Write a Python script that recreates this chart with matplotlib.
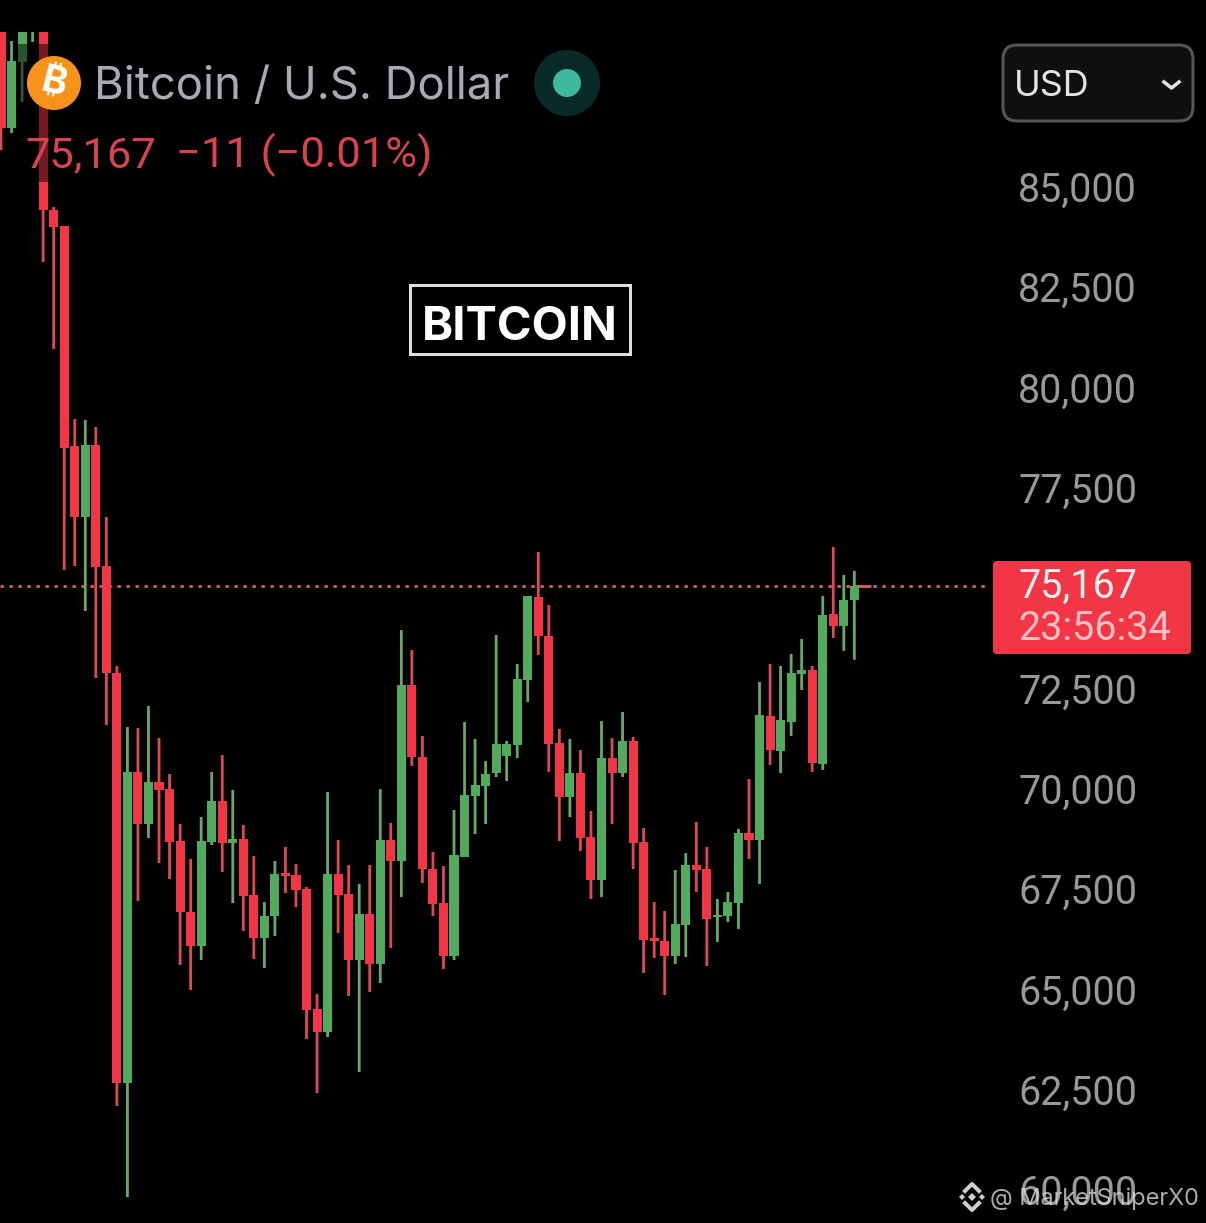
import numpy as np
import matplotlib
matplotlib.use("Agg")
import matplotlib.pyplot as plt
from matplotlib.patches import Circle, FancyBboxPatch, Polygon, Rectangle

# ---------- data (USD) ----------
opens = [89300, 86583, 88228, 89100, 89150, 84539, 84140, 78656, 76887, 78681,
         75666, 72999, 62779, 70531, 69235, 70282, 70107, 68811, 67041, 66194,
         68784, 69808, 68762, 68861, 67465, 66395, 66942, 68014, 67964, 67615,
         64624, 64051, 67989, 67490, 65845, 66992, 65745, 68836, 68312, 72700,
         70905, 68113, 67265, 65945, 68412, 69933, 70182, 70506, 70930, 71204,
         72824, 74893, 73921, 71254, 69908, 70506, 68911, 67839, 70880, 70506,
         71304, 68784, 66395, 66319, 65945, 66717, 68213, 68113, 66917, 66942,
         67265, 69010, 68836, 71927, 71054, 71777, 72973, 73073, 70730, 74469,
         74169, 74818]
highs = [89400, 88751, 89300, 89500, 89300, 84614, 84140, 79329, 79305, 79130,
         76887, 73173, 71653, 71628, 72176, 71379, 70481, 69235, 68362, 69409,
         70531, 70954, 70082, 69210, 68437, 67290, 68312, 68662, 68238, 67665,
         65003, 70032, 68836, 68213, 67740, 68213, 70107, 69260, 74070, 73572,
         71428, 68537, 68188, 69584, 71777, 71353, 70805, 73946, 71304, 73223,
         74917, 76014, 74693, 71603, 71353, 71079, 69559, 71802, 71379, 72027,
         71404, 69135, 67290, 67067, 68088, 68512, 69285, 68662, 67365, 67540,
         69110, 70356, 72774, 73223, 73173, 73472, 73846, 73173, 74917, 76139,
         75441, 75541]
lows = [86034, 86458, 87231, 88726, 83243, 81074, 75565, 75666, 74544, 72874,
        71702, 62206, 59937, 67316, 68886, 68263, 67864, 65720, 65097, 65845,
        68711, 68038, 67265, 66568, 65870, 65646, 66443, 67515, 67165, 63876,
        62530, 63926, 66518, 64948, 63053, 65047, 65272, 66145, 67415, 70681,
        67765, 66942, 65621, 65845, 68412, 68985, 69235, 70406, 70307, 70880,
        72275, 73447, 70531, 68811, 69409, 68561, 67365, 67415, 69235, 70406,
        68113, 65521, 65895, 64973, 65745, 65920, 67540, 65696, 66294, 66792,
        66618, 68362, 67740, 70705, 70506, 71428, 72575, 70531, 70581, 73871,
        73547, 73329]
closes = [86583, 88253, 89200, 89500, 84539, 84115, 78607, 76887, 78681, 75641,
          72999, 62779, 70531, 69235, 70282, 70082, 68784, 67041, 66194, 68811,
          69808, 68762, 68861, 67440, 66395, 66942, 67989, 67939, 67590, 64599,
          64051, 67989, 67465, 65845, 66992, 65745, 68836, 68312, 72700, 70905,
          68113, 67240, 65945, 68462, 69958, 70207, 70481, 71229, 71229, 72849,
          74917, 73921, 71229, 69908, 70506, 68886, 67839, 70880, 70506, 71304,
          68762, 66344, 66319, 65945, 66742, 68213, 68088, 66867, 66967, 67290,
          69010, 68836, 71952, 71079, 71827, 72999, 73073, 70755, 74444, 74169,
          74818, 75167]

tick_values = [85000, 82500, 80000, 77500, 72500, 70000, 67500, 65000, 62500, 60000]
last_price = 75167
price_change = "\u221211 (\u22120.01%)"
countdown = "23:56:34"

# ---------- styles ----------
W, H = 1206, 1223
RED = "#f23645"
GREEN = "#52aa5c"
RED_WICK = "#dc4a56"
GREEN_WICK = "#66a96b"
TICK_GREY = "#98989d"
NUM_FONT = ["Roboto", "DejaVu Sans"]
plt.rcParams["font.family"] = ["Inter", "DejaVu Sans"]


def px(n):
    # pixels to points at dpi=100
    return n * 0.72


fig = plt.figure(figsize=(W / 100, H / 100), dpi=100, facecolor="black")

# ---------- price chart ----------
ax = fig.add_axes([0, 0, 1, (H - 32) / H], facecolor="black")
ax.set_xlim(-0.095, 114.38)
ax.set_ylim(59290, 88975)
ax.axis("off")

opens_arr = np.array(opens)
closes_arr = np.array(closes)
idx = np.arange(len(opens_arr))
up = closes_arr >= opens_arr
body_colors = [GREEN if u else RED for u in up]
wick_colors = [GREEN_WICK if u else RED_WICK for u in up]

ax.hlines(last_price, -0.095, 93.4, colors="#cf5a60", linewidth=px(3),
          linestyles=(0, (1.1, 1.9)), zorder=1)
ax.hlines(last_price, 81, 82.6, colors="#cf5a60", linewidth=px(3), zorder=1)
wicks = ax.vlines(idx, lows, highs, colors=wick_colors, linewidth=px(2.8), zorder=2)
wicks.set_snap(False)
ax.bar(idx, np.abs(closes_arr - opens_arr), bottom=np.minimum(opens_arr, closes_arr),
       width=0.86, color=body_colors, linewidth=0, zorder=3)

# axis labels sit a little above their true level in the app
for v in tick_values:
    ax.annotate(f"{v:,}", xy=(1018, v), xycoords=("figure pixels", "data"),
                xytext=(0, -10.5), textcoords="offset pixels", color=TICK_GREY,
                fontsize=px(39.5), va="baseline", ha="left", annotation_clip=False,
                family=NUM_FONT)

# ---------- overlay in image pixels ----------
ui = fig.add_axes([0, 0, 1, 1], facecolor="none", zorder=5)
ui.set_xlim(0, W)
ui.set_ylim(H, 0)
ui.axis("off")

# legend backdrop dims the candles under it
ui.add_patch(Rectangle((17, 44), 430, 138, facecolor="black", alpha=0.5, linewidth=0))

ui.add_patch(Circle((54, 83), 27, facecolor="#f7931a", linewidth=0))
ui.text(54, 83, "\u20bf", color="white", fontsize=px(38), fontweight="bold", rotation=-14,
        ha="center", va="center", family=["Inter", "Roboto", "Noto Sans", "Open Sans", "Lato"])
ui.text(94, 99.5, "Bitcoin / U.S. Dollar", color="#a9abb4", fontsize=px(45.5), va="baseline")
ui.text(25, 167, f"{last_price:,}", color="#d8434f", fontsize=px(43.5), va="baseline",
        family=NUM_FONT)
ui.text(176, 167, price_change, color="#d8434f", fontsize=px(43.5), va="baseline",
        family=NUM_FONT)

ui.add_patch(Circle((567, 83), 33, facecolor="#0a2a2a", linewidth=0))
ui.add_patch(Circle((567, 83), 14, facecolor="#3fb8a0", linewidth=0))

# currency selector
ui.add_patch(FancyBboxPatch((1017, 59), 162, 48, boxstyle="round,pad=14,rounding_size=14",
                            facecolor="#0f0f0f", edgecolor="#565656", linewidth=px(3)))
ui.text(1014, 96, "USD", color="#e4e4e4", fontsize=px(36), va="baseline")
ui.plot([1164, 1171.5, 1179], [82, 88, 82], color="#e4e4e4", linewidth=px(3.5))

# title box
ui.add_patch(Rectangle((409.5, 285), 220.5, 69, facecolor="black", edgecolor="#dedede",
                       linewidth=px(3)))
ui.text(520, 340, "BITCOIN", color="white", fontsize=px(47), fontweight="bold",
        ha="center", va="baseline")

# price tag
ui.add_patch(FancyBboxPatch((996, 564), 192, 87, boxstyle="round,pad=3,rounding_size=4",
                            facecolor=RED, linewidth=0))
ui.text(1018, 598, f"{last_price:,}", color="#f6f0f0", fontsize=px(39.5), va="baseline",
        family=NUM_FONT)
ui.text(1018, 640, countdown, color="#f9c0c6", fontsize=px(39.5), va="baseline",
        family=NUM_FONT)

# watermark
for cx, cy, r in [(972, 1197, 4), (962, 1197, 3), (982, 1197, 3)]:
    ui.add_patch(Polygon([(cx, cy - r), (cx + r, cy), (cx, cy + r), (cx - r, cy)],
                         facecolor="#cfcfcf", linewidth=0))
ui.plot([965, 972, 979], [1191, 1184, 1191], color="#cfcfcf", linewidth=px(4))
ui.plot([965, 972, 979], [1203, 1210, 1203], color="#cfcfcf", linewidth=px(4))
ui.text(990, 1205, "@ MarketSniperX0", color="#d8d8d8", alpha=0.8, fontsize=px(23.5),
        va="baseline")

fig.savefig("out.png", dpi=100, facecolor="black")
